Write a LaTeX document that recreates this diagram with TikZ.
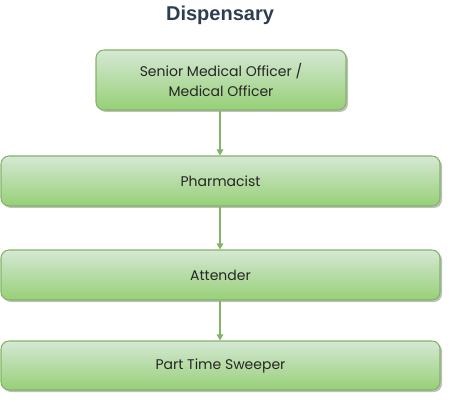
\documentclass[tikz,border=0pt]{standalone}
\usepackage{fontspec}
\setmainfont{Poppins}
\newfontfamily\titlefont{Liberation Sans}
\usetikzlibrary{shadows,arrows.meta}
\definecolor{gtop}{HTML}{D5E8D4}
\definecolor{gbot}{HTML}{97D077}
\definecolor{gline}{HTML}{82B366}
\definecolor{titlecol}{HTML}{2C3E50}
\tikzset{
  rolebox/.style={draw=gline, line width=0.8pt, rounded corners=6pt,
    top color=gtop, bottom color=gbot, align=center, text=black!85,
    font=\fontsize{10.5}{15}\selectfont, inner sep=0pt,
    drop shadow={shadow xshift=1.5pt, shadow yshift=-1.5pt, opacity=0.25, fill=black}},
  link/.style={draw=gline, line width=0.8pt, -{Triangle[length=4.5pt,width=5pt]}}
}
\begin{document}
\begin{tikzpicture}[x=0.75pt,y=-0.75pt]
\useasboundingbox (0,0) rectangle (452,402);
\node[font=\titlefont\bfseries\fontsize{15}{18}\selectfont, text=titlecol] (title) at (220,15) {Dispensary};
\node[rolebox, minimum width=250*0.75pt, minimum height=60*0.75pt] (smo) at (221,80) {Senior Medical Officer /\\ Medical Officer};
\node[rolebox, minimum width=439*0.75pt, minimum height=50*0.75pt] (ph) at (220.5,181) {Pharmacist};
\node[rolebox, minimum width=439*0.75pt, minimum height=50*0.75pt] (at) at (220.5,275) {Attender};
\node[rolebox, minimum width=439*0.75pt, minimum height=49*0.75pt] (sw) at (220.5,365.5) {Part Time Sweeper};
\draw[link] (smo.south -| 220,0) -- (ph.north -| 220,0);
\draw[link] (ph.south -| 220,0) -- (at.north -| 220,0);
\draw[link] (at.south -| 220,0) -- (sw.north -| 220,0);
\end{tikzpicture}
\end{document}
